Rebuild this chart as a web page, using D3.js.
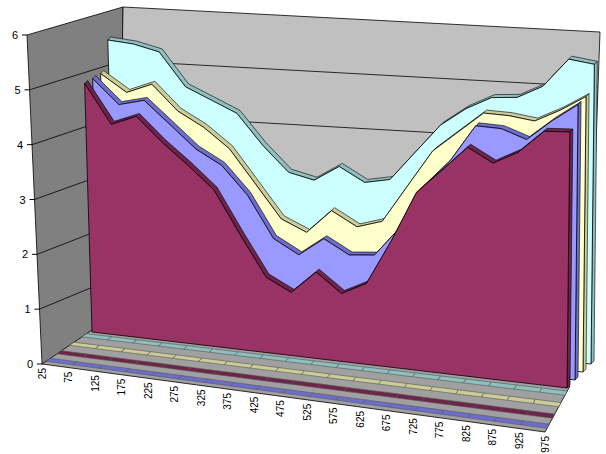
<!DOCTYPE html>
<html><head><meta charset="utf-8">
<script src="https://cdn.jsdelivr.net/npm/d3@7/dist/d3.min.js"></script>
<style>body{margin:0;background:#fff}svg{display:block}</style>
</head><body><svg id="c" width="606" height="454"></svg>
<script>
const categories = ["25","75","125","175","225","275","325","375","425","475","525","575","625","675","725","775","825","875","925","975"];
const seriesNames = ["S1","S2","S3","S4"];
const redValues    = [4.6,3.9,4.1,3.67,3.3,2.9,2.13,1.4,1.17,1.6,1.26,1.5,2.35,3.3,3.76,4.24,4.0,4.26,4.7,4.74];
const blueValues   = [4.6,4.17,4.3,3.9,3.5,3.25,2.75,2.0,1.75,2.1,1.85,1.9,2.45,3.3,3.8,4.5,4.5,4.35,4.75,5.1];
const yellowValues = [4.6,4.3,4.5,4.05,3.8,3.45,2.85,2.25,2.05,2.5,2.25,2.4,3.1,3.8,4.2,4.6,4.6,4.55,4.8,5.1];
const cyanValues   = [5.13,5.1,5.0,4.4,4.2,4.0,3.45,3.0,2.9,3.2,2.95,3.05,3.6,4.15,4.5,4.75,4.8,5.05,5.6,5.55];
const yTicks = [0,1,2,3,4,5,6];

const svg = d3.select("#c");
const n = categories.length;
const tS = d3.scaleLinear().domain([0,n-1]).range([0,1]);
const lerp = (a,b,t)=>a+(b-a)*t;
const vS = d3.scaleLinear().domain([0,6]).range([0,1]);

const FL=[42,364], FR=[545,432], BLb=[118,330], BLt=[123,7], BRb=[588,362], BRt=[600,32], FLt=[27,35];
const pt = a=>a.join(",");
const poly = (pts,fill,stroke,sw)=>svg.append("polygon").attr("points",pts.map(pt).join(" ")).attr("fill",fill).attr("stroke",stroke||"none").attr("stroke-width",sw||1);

poly([FL,FLt,BLt,BLb],"#808080","#000",0.8);
poly([BLb,BLt,BRt,BRb],"#c0c0c0","#000",0.8);
yTicks.forEach(v=>{
  const f=vS(v);
  const a=[lerp(FL[0],FLt[0],f),lerp(FL[1],FLt[1],f)];
  const b=[lerp(BLb[0],BLt[0],f),lerp(BLb[1],BLt[1],f)];
  const c=[lerp(BRb[0],BRt[0],f),lerp(BRb[1],BRt[1],f)];
  if(v>0&&v<6){svg.append("polyline").attr("points",[a,b,c].map(pt).join(" ")).attr("fill","none").attr("stroke","#000").attr("stroke-width",0.8);}
  svg.append("line").attr("x1",a[0]).attr("y1",a[1]).attr("x2",a[0]-5).attr("y2",a[1]).attr("stroke","#000");
  svg.append("text").attr("x",a[0]-9).attr("y",a[1]+4).attr("text-anchor","end").attr("font-family","Liberation Sans, Arial").attr("font-size",11).text(v);
});

const FB1=[92,330], FB2=[570,386];
function F(t,s){const f=[lerp(FL[0],FR[0],t),lerp(FL[1],FR[1],t)];const b=[lerp(FB1[0],FB2[0],t),lerp(FB1[1],FB2[1],t)];return [lerp(f[0],b[0],s),lerp(f[1],b[1],s)];}
poly([F(0,0),F(1,0),F(1,1),F(0,1)],"#a0a0a0","#000",0.8);
const colors=["#993366","#9999ff","#ffffcc","#ccffff"];
const dark=["#6e2449","#6d6dcc","#cccc99","#8fbfbf"];
const stripes=[[1,0.08,0.17],[0,0.3,0.39],[2,0.55,0.64],[3,0.8,0.89]];
stripes.forEach(([k,s0,s1])=>{
  for(let i=0;i<n-1;i++){const t0=tS(i),t1=tS(i+1);
    poly([F(t0,s0),F(t1,s0),F(t1,s1),F(t0,s1)],dark[k],"#555",0.6);}
});

const seriesVals=[redValues,blueValues,yellowValues,cyanValues];
function basePt(i,k){const t=tS(i);return [lerp(92,567,t)+k*lerp(8,8,t), lerp(332,388,t)-k*lerp(5,8,t)];}
const hS=d3.scaleLinear().domain([0,1]).range([0,54]);
function topPt(i,k,v){const b=basePt(i,k),t=tS(i);return [b[0]+v*lerp(-1.6,0.6,t), b[1]-hS(v)];}
for(let k=3;k>=0;k--){
  const vals=seriesVals[k];
  const tp=vals.map((v,i)=>topPt(i,k,v));
  const bs=d3.range(n).map(i=>basePt(i,k));
  const off=[3,-3];
  const tpo=tp.map(p=>[p[0]+off[0],p[1]+off[1]]);
  poly(tp.concat(tpo.slice().reverse()),dark[k],"#000",0.6);
  poly([bs[n-1],tp[n-1],tpo[n-1],[bs[n-1][0]+off[0],bs[n-1][1]+off[1]]],dark[k],"#000",0.6);
  poly(tp.concat(bs.slice().reverse()),colors[k],"#000",0.8);
}

categories.forEach((c,i)=>{
  const p=F(tS(i),0);
  svg.append("text").attr("transform",`translate(${p[0]+4},${p[1]+4}) rotate(-90)`).attr("text-anchor","end")
   .attr("font-family","Liberation Sans, Arial").attr("font-size",10).text(c);
});
</script></body></html>
